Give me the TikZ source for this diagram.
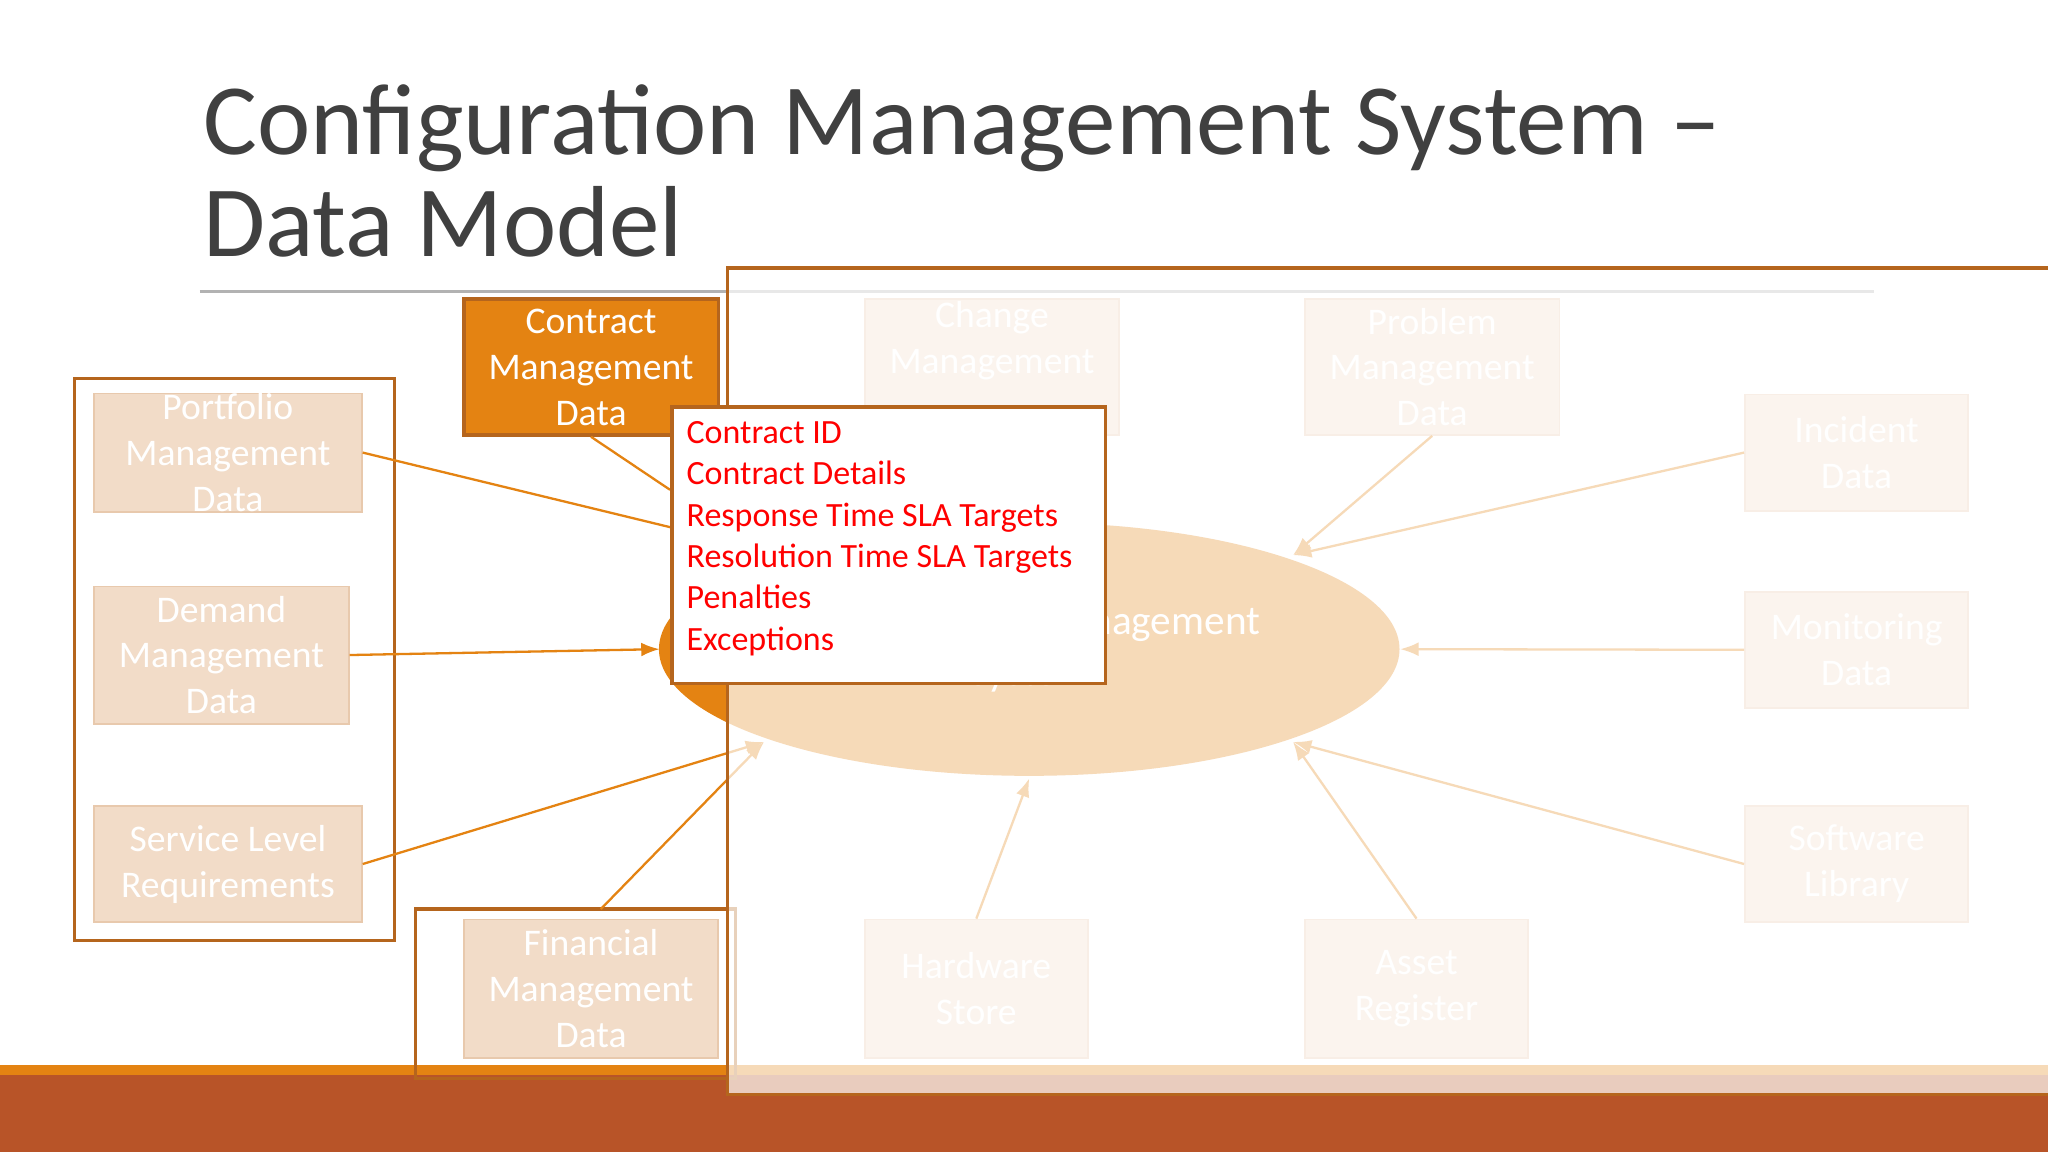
\documentclass[tikz,border=0pt]{standalone}
\usepackage{fontspec}
\setmainfont{Carlito}
\usetikzlibrary{arrows.meta,shapes.geometric}
\definecolor{org}{HTML}{E48312}
\definecolor{brn}{HTML}{B5651D}
\definecolor{rust}{HTML}{B85428}
\definecolor{pale}{HTML}{F2DCC8}
\definecolor{ttl}{HTML}{404040}
\begin{document}
\begin{tikzpicture}[x=0.1mm,y=-0.1mm,
  pbox/.style={fill=pale,draw=pale!80!brown,text=white,align=center,font=\fontsize{8.2}{10}\selectfont,inner sep=0pt},
  arr/.style={draw=org,line width=0.5pt,-{Latex[length=4pt]}}]
\useasboundingbox (0,0) rectangle (1568,882);
\fill[white] (0,0) rectangle (1568,882);
% bottom bars
\fill[rust] (0,823) rectangle (1568,882);
\fill[org] (0,815) rectangle (1568,823);
% title
\node[anchor=base west,text=ttl,font=\fontsize{22}{26}\selectfont,inner sep=0pt] (t1) at (155,118) {Configuration Management System –};
\node[anchor=base west,text=ttl,font=\fontsize{22}{26}\selectfont,inner sep=0pt] (t2) at (155,196) {Data Model};
\draw[gray!60,line width=0.6pt] (153,223) -- (1435,223);
% ellipse
\node[ellipse,draw=none,fill=org,minimum width=56.7mm,minimum height=19.4mm,text=white,align=center,font=\fontsize{9}{11}\selectfont] (cms) at (788,497) {Configuration Management\\System};
% left group
\draw[brn,line width=0.7pt] (57,290) rectangle (302,720);
\node[pbox,minimum width=20.5mm,minimum height=8.9mm] (pmd) at (174.5,346.5) {Portfolio\\Management\\Data};
\node[pbox,minimum width=19.5mm,minimum height=10.5mm] (dmd) at (169.5,501.5) {Demand\\Management\\Data};
\node[pbox,minimum width=20.5mm,minimum height=8.9mm] (slr) at (174.5,661.5) {Service Level\\Requirements};
\draw[brn,line width=0.7pt] (318,696) rectangle (563,826);
\node[pbox,minimum width=19.5mm,minimum height=10.6mm] (fmd) at (452.5,757) {Financial\\Management\\Data};
% right nodes
\node[pbox,minimum width=19.5mm,minimum height=10.4mm] (chg) at (759.5,281) {Change\\Management\\\strut};
\node[pbox,minimum width=19.5mm,minimum height=10.4mm] (prb) at (1096.5,281) {Problem\\Management\\Data};
\node[pbox,minimum width=17.1mm,minimum height=8.9mm] (inc) at (1421.5,346.5) {Incident\\Data};
\node[pbox,minimum width=17.1mm,minimum height=8.9mm] (mon) at (1421.5,497.5) {Monitoring\\Data};
\node[pbox,minimum width=17.1mm,minimum height=8.9mm] (sw) at (1421.5,661.5) {Software\\Library};
\node[pbox,minimum width=17.1mm,minimum height=10.6mm] (hw) at (747.5,757) {Hardware\\Store};
\node[pbox,minimum width=17.1mm,minimum height=10.6mm] (ar) at (1084.5,757) {Asset\\Register};
% endpoints
\coordinate (e1) at (560,415);
\coordinate (e2) at (505,497);
\coordinate (e3) at (585,568);
\coordinate (e4) at (990,425);
\coordinate (e5) at (1072,497);
\coordinate (e6) at (990,568);
\coordinate (e7) at (788,596);
\coordinate (f1) at (460,696);
\draw[arr] (pmd.east) -- (e1);
\draw[arr] (dmd.east) -- (e2);
\draw[arr] (slr.east) -- (e3);
\draw[arr] (f1) -- (e3);
\draw[arr] (prb.south) -- (e4);
\draw[arr] (inc.west) -- (e4);
\draw[arr] (mon.west) -- (e5);
\draw[arr] (sw.west) -- (e6);
\draw[arr] (ar.north) -- (e6);
\draw[arr] (hw.north) -- (e7);
% overlay panel
\fill[white,opacity=0.7] (557,205) rectangle (1568,838);
\draw[brn,line width=0.8pt] (1568,205) -- (557,205) -- (557,838) -- (1568,838);
% contract node and callout
\node[fill=org,draw=brn,line width=0.8pt,text=white,align=center,minimum width=19.5mm,minimum height=10.4mm,inner sep=0pt,font=\fontsize{8.2}{10}\selectfont] (cmd) at (452.5,281) {Contract\\Management\\Data};
\coordinate (cc) at (513,375);
\draw[org,line width=0.5pt] (cmd.south) -- (cc);
\node[fill=white,draw=brn,line width=0.8pt,minimum width=33.2mm,minimum height=21.2mm,anchor=north west,inner sep=0pt] (call) at (513,310) {};
\node[anchor=north west,text=red,align=left,font=\fontsize{7.4}{9}\selectfont,inner sep=0pt] (calltxt) at (525,322) {Contract ID\\Contract Details\\Response Time SLA Targets\\Resolution Time SLA Targets\\Penalties\\Exceptions};
\end{tikzpicture}
\end{document}
